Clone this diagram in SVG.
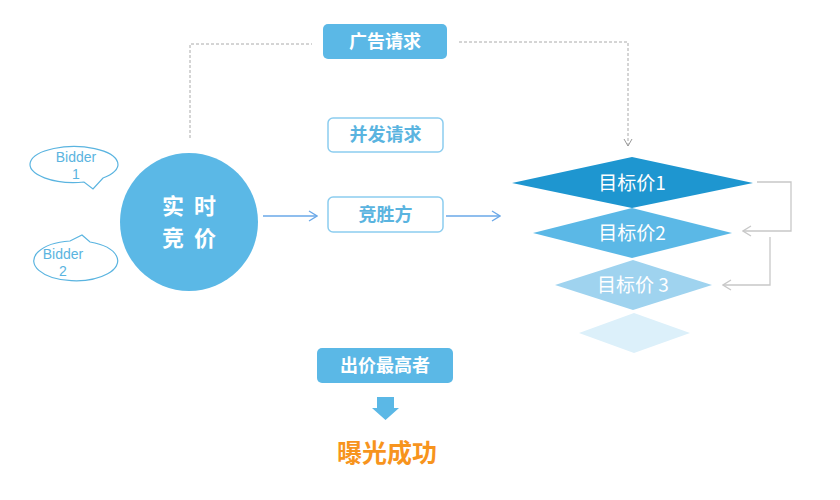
<svg xmlns="http://www.w3.org/2000/svg" width="840" height="500" viewBox="0 0 840 500">
<style>
.cjk{font-family:"Noto Sans CJK SC","Liberation Sans",sans-serif}
.lat{font-family:"Liberation Sans","Noto Sans CJK SC",sans-serif}
.solid{fill:#5bb8e6}
.outline{fill:#fff;stroke:#8ccdef;stroke-width:1.5}
.wt{fill:#fff;font-weight:bold;font-size:18px}
.bt{fill:#5ab4e0;font-weight:bold;font-size:18px}
.dash{fill:none;stroke:#aaa;stroke-width:1;stroke-dasharray:3,2}
.gray{fill:none;stroke:#c8c8c8;stroke-width:1.3}
.blue{fill:none;stroke:#6aa8e8;stroke-width:1.3}
.bub{fill:#fff;stroke:#5ab4e0;stroke-width:1.2}
.bubt{fill:#5ab4e0;font-size:14px}
.dt{fill:#fff;font-size:19px}
.big{fill:#fff;font-weight:bold;font-size:22px;letter-spacing:10px}
</style>
<defs>
<marker id="chev" markerWidth="10" markerHeight="10" refX="8" refY="5" orient="auto" markerUnits="userSpaceOnUse">
<path d="M1,1 L8,5 L1,9" fill="none" stroke="#999" stroke-width="1"/>
</marker>
<marker id="chevb" markerWidth="10" markerHeight="12" refX="9" refY="6" orient="auto" markerUnits="userSpaceOnUse">
<path d="M1,1 L9,6 L1,11" fill="none" stroke="#6aa8e8" stroke-width="1.3"/>
</marker>
<marker id="chevg" markerWidth="10" markerHeight="12" refX="9" refY="6" orient="auto" markerUnits="userSpaceOnUse">
<path d="M1,1 L9,6 L1,11" fill="none" stroke="#c8c8c8" stroke-width="1.3"/>
</marker>
</defs>
<rect width="840" height="500" fill="#fff"/>
<g id="connectors">
<path class="dash" d="M190,138 V44 H312"/>
<path class="dash" d="M459,42 H628 V146" marker-end="url(#chev)"/>
<line class="blue" x1="263" y1="216" x2="317" y2="216" marker-end="url(#chevb)"/>
<line class="blue" x1="446" y1="216" x2="500" y2="216" marker-end="url(#chevb)"/>
<path class="gray" d="M757,182 H791 V231 H743" marker-end="url(#chevg)"/>
<path class="gray" d="M770,237 V285 H723" marker-end="url(#chevg)"/>
<path d="M377,397 H394 V408 H399 L385.5,420 L372,408 H377 Z" fill="#5bb8e6"/>
</g>
<g id="ad-request">
<rect class="solid" x="323" y="24" width="124" height="35" rx="5"/>
<text class="cjk wt" x="385" y="48" text-anchor="middle">广告请求</text>
</g>
<g id="concurrent-request">
<rect class="outline" x="328" y="118" width="115" height="34" rx="5"/>
<text class="cjk bt" x="385.5" y="141" text-anchor="middle">并发请求</text>
</g>
<g id="winner">
<rect class="outline" x="328" y="197" width="115" height="35" rx="5"/>
<text class="cjk bt" x="385.5" y="220.5" text-anchor="middle">竞胜方</text>
</g>
<g id="rtb">
<circle cx="189" cy="222" r="69" fill="#5bb8e6"/>
<text class="cjk big" x="194" y="214" text-anchor="middle">实时</text>
<text class="cjk big" x="194" y="246" text-anchor="middle">竞价</text>
</g>
<g id="bidder1">
<path class="bub" d="M84,182 A44,18 0 1 1 103,178 L93,189 Z"/>
<text class="lat bubt" x="76" y="162" text-anchor="middle">Bidder</text>
<text class="lat bubt" x="76" y="179" text-anchor="middle">1</text>
</g>
<g id="bidder2">
<path class="bub" d="M70,241 A42,20 0 1 0 90,242 L82,235 Z"/>
<text class="lat bubt" x="63" y="259" text-anchor="middle">Bidder</text>
<text class="lat bubt" x="63" y="276" text-anchor="middle">2</text>
</g>
<g id="target1">
<polygon points="512,183 632,157 753,183 632,208" fill="#1e96d0"/>
<text class="cjk dt" x="632" y="190" text-anchor="middle">目标价1</text>
</g>
<g id="target2">
<polygon points="533,233 632,208 732,233 632,258" fill="#5bb8e6"/>
<text class="cjk dt" x="632" y="240" text-anchor="middle">目标价2</text>
</g>
<g id="target3">
<polygon points="555,285 633,260 712,285 633,310" fill="#9fd3ef"/>
<text class="cjk dt" x="633" y="292" text-anchor="middle">目标价 3</text>
</g>
<g id="target4">
<polygon points="579,333 634,313 690,333 634,353" fill="#dcf0fa"/>
</g>
<g id="highest">
<rect class="solid" x="317" y="348" width="136" height="35" rx="5"/>
<text class="cjk wt" x="385" y="372" text-anchor="middle">出价最高者</text>
</g>
<g id="success">
<text class="cjk" x="387" y="462" text-anchor="middle" fill="#f7941d" font-weight="bold" font-size="25">曝光成功</text>
</g>
</svg>
